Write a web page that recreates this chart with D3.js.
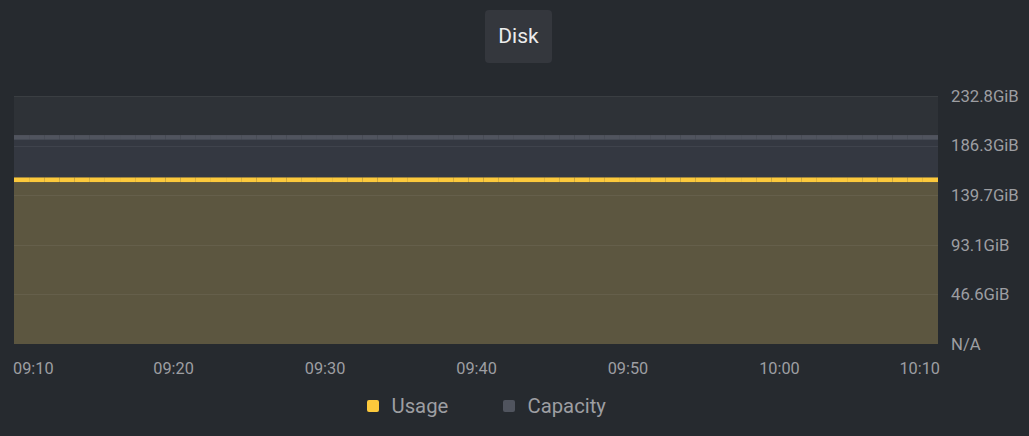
<!DOCTYPE html>
<html>
<head>
<meta charset="utf-8">
<script src="https://cdn.jsdelivr.net/npm/d3@7"></script>
<style>
	body { margin: 0; background: #262a2f; }
	svg { display: block; font-family: Roboto, "Noto Sans", sans-serif; }
</style>
</head>
<body>
<svg id="chart" width="1029" height="436"></svg>
<script>

// one sample per minute, values in GiB
var times = [
	"09:09:30","09:10:30","09:11:30","09:12:30","09:13:30","09:14:30","09:15:30","09:16:30",
	"09:17:30","09:18:30","09:19:30","09:20:30","09:21:30","09:22:30","09:23:30","09:24:30",
	"09:25:30","09:26:30","09:27:30","09:28:30","09:29:30","09:30:30","09:31:30","09:32:30",
	"09:33:30","09:34:30","09:35:30","09:36:30","09:37:30","09:38:30","09:39:30","09:40:30",
	"09:41:30","09:42:30","09:43:30","09:44:30","09:45:30","09:46:30","09:47:30","09:48:30",
	"09:49:30","09:50:30","09:51:30","09:52:30","09:53:30","09:54:30","09:55:30","09:56:30",
	"09:57:30","09:58:30","09:59:30","10:00:30","10:01:30","10:02:30","10:03:30","10:04:30",
	"10:05:30","10:06:30","10:07:30","10:08:30","10:09:30","10:10:30"
];

var usage = [
	154.2,154.2,154.2,154.2,154.2,154.2,154.2,154.2,154.2,154.2,154.2,154.2,154.2,154.2,154.2,154.2,
	154.2,154.2,154.2,154.2,154.2,154.2,154.2,154.2,154.2,154.2,154.2,154.2,154.2,154.2,154.2,154.2,
	154.2,154.2,154.2,154.2,154.2,154.2,154.2,154.2,154.2,154.2,154.2,154.2,154.2,154.2,154.2,154.2,
	154.2,154.2,154.2,154.2,154.2,154.2,154.2,154.2,154.2,154.2,154.2,154.2,154.2,154.2
];

var capacity = [
	194.0,194.0,194.0,194.0,194.0,194.0,194.0,194.0,194.0,194.0,194.0,194.0,194.0,194.0,194.0,194.0,
	194.0,194.0,194.0,194.0,194.0,194.0,194.0,194.0,194.0,194.0,194.0,194.0,194.0,194.0,194.0,194.0,
	194.0,194.0,194.0,194.0,194.0,194.0,194.0,194.0,194.0,194.0,194.0,194.0,194.0,194.0,194.0,194.0,
	194.0,194.0,194.0,194.0,194.0,194.0,194.0,194.0,194.0,194.0,194.0,194.0,194.0,194.0
];

var yTicks = [0, 46.566, 93.132, 139.698, 186.265, 232.831];
var yTickLabels = ["N/A", "46.6GiB", "93.1GiB", "139.7GiB", "186.3GiB", "232.8GiB"];
var xTicks = ["09:10","09:20","09:30","09:40","09:50","10:00","10:10"];

var series = [
	{ name: "Usage", values: usage, color: "#fcc93c", fill: "#5c5640" },
	{ name: "Capacity", values: capacity, color: "#50545e", fill: "#343841" }
];

var plot = { left: 14, right: 938, top: 96, bottom: 344 };

var parse = d3.timeParse("%H:%M:%S");
var parseTick = d3.timeParse("%H:%M");

var svg = d3.select("#chart");

var x = d3.scaleTime()
	.domain([ parse(times[0]), parse(times[times.length - 1]) ])
	.range([ plot.left, plot.right ]);

var y = d3.scaleLinear()
	.domain([ 0, 232.831 ])
	.range([ plot.bottom, plot.top ]);

// title badge
svg.append("rect")
	.attr("x", 485).attr("y", 10)
	.attr("width", 67).attr("height", 53)
	.attr("rx", 4)
	.attr("fill", "#34373d");

svg.append("text")
	.attr("x", 518.5).attr("y", 42.5)
	.attr("text-anchor", "middle")
	.attr("fill", "#ececec")
	.attr("font-size", 21)
	.text("Disk");

// plot background
svg.append("rect")
	.attr("x", plot.left).attr("y", plot.top)
	.attr("width", plot.right - plot.left)
	.attr("height", plot.bottom - plot.top)
	.attr("fill", "#2e3237");

// areas (capacity behind usage)
[ series[1], series[0] ].forEach( s => {

	svg.append("path")
		.datum(d3.range(times.length))
		.attr("d", d3.area()
			.x( i => x(parse(times[i])) )
			.y0( y(0) )
			.y1( i => y(s.values[i]) ))
		.attr("fill", s.fill);

});

// grid lines
svg.append("g")
	.selectAll("line")
	.data(yTicks.slice(1))
	.join("line")
	.attr("x1", plot.left).attr("x2", plot.right)
	.attr("y1", d => Math.round(y(d)) + 0.5)
	.attr("y2", d => Math.round(y(d)) + 0.5)
	.attr("stroke", "#ffffff")
	.attr("stroke-opacity", 0.06)
	.attr("stroke-width", 1.2);

// lines, segment by segment
series.slice().reverse().forEach( s => {

	var segs = d3.pairs(d3.range(times.length));

	svg.append("g")
		.selectAll("path")
		.data(segs)
		.join("path")
		.attr("d", p => d3.line()
			.x( i => x(parse(times[i])) )
			.y( i => y(s.values[i]) )(p))
		.attr("fill", "none")
		.attr("stroke", s.color)
		.attr("stroke-width", 4.6)
		.attr("stroke-linecap", "butt");

});

// y axis on the right
var yAxis = d3.axisRight(y)
	.tickValues(yTicks)
	.tickFormat( (d, i) => yTickLabels[i] )
	.tickSize(0)
	.tickPadding(0);

svg.append("g")
	.attr("transform", `translate(951,0)`)
	.call(yAxis)
	.call( g => g.select(".domain").remove() )
	.call( g => g.selectAll("text")
		.attr("fill", "#9d9ea2")
		.attr("font-size", 16.7)
		.attr("font-family", "Roboto, sans-serif"));

// x axis
var xAxis = d3.axisBottom(x)
	.tickValues(xTicks.map(parseTick))
	.tickFormat(d3.timeFormat("%H:%M"))
	.tickSize(0)
	.tickPadding(0);

svg.append("g")
	.attr("transform", `translate(0,362)`)
	.call(xAxis)
	.call( g => g.select(".domain").remove() )
	.call( g => g.selectAll("text")
		.attr("fill", "#9d9ea2")
		.attr("font-size", 16.3)
		.attr("font-family", "Roboto, sans-serif"))
	.call( g => {
		var t = g.selectAll(".tick");
		var n = t.size();
		t.each(function(d, i) {
			if(i === 0)
				d3.select(this).attr("transform", `translate(${plot.left - 1},0)`)
					.select("text").attr("text-anchor", "start");
			if(i === n - 1)
				d3.select(this).attr("transform", `translate(940,0)`)
					.select("text").attr("text-anchor", "end");
		});
	});

// legend
var legendX = [ 367, 503 ];

var lg = svg.append("g")
	.selectAll("g")
	.data(series)
	.join("g")
	.attr("transform", (d, i) => `translate(${legendX[i]},400)`);

lg.append("rect")
	.attr("width", 12).attr("height", 12)
	.attr("rx", 2)
	.attr("fill", d => d.color);

lg.append("text")
	.attr("x", 24.5).attr("y", 12.5)
	.attr("fill", "#9d9ea2")
	.attr("font-size", 20.3)
	.text(d => d.name);

</script>
</body>
</html>
